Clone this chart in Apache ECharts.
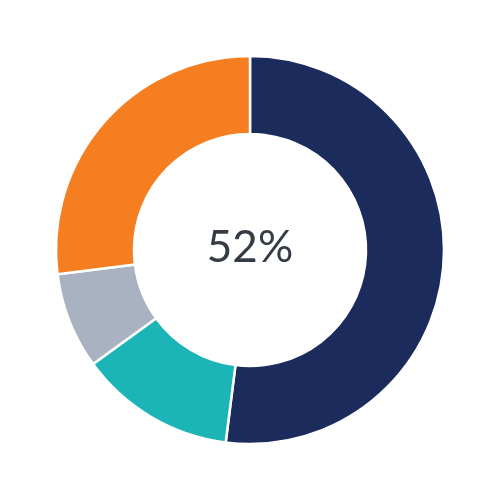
<!DOCTYPE html>
<html>
<head>
<meta charset="utf-8">
<script src="https://cdn.jsdelivr.net/npm/echarts@6/dist/echarts.min.js"></script>
<style>html,body{margin:0;padding:0;background:#fff;}#c{width:500px;height:500px;}</style>
</head>
<body>
<div id="c"></div>
<script>
const categories = ['A', 'B', 'C', 'D'];
const values = [52, 13, 8, 27];
const colors = ['#1b2b5b', '#1bb4b7', '#a8b2c0', '#f47e20'];
const centerLabel = '52%';

const chart = echarts.init(document.getElementById('c'));
chart.setOption({
  animation: false,
  graphic: [{
    type: 'text',
    left: 'center',
    top: 226,
    style: {
      text: centerLabel,
      font: '400 44px Lato',
      fill: '#353c45'
    }
  }],
  series: [{
    type: 'pie',
    center: [250, 250],
    radius: [116, 194],
    startAngle: 90,
    clockwise: true,
    label: { show: false },
    labelLine: { show: false },
    itemStyle: { borderColor: '#fff', borderWidth: 2.5 },
    data: categories.map((n, i) => ({ name: n, value: values[i], itemStyle: { color: colors[i] } }))
  }]
});
</script>
</body>
</html>
